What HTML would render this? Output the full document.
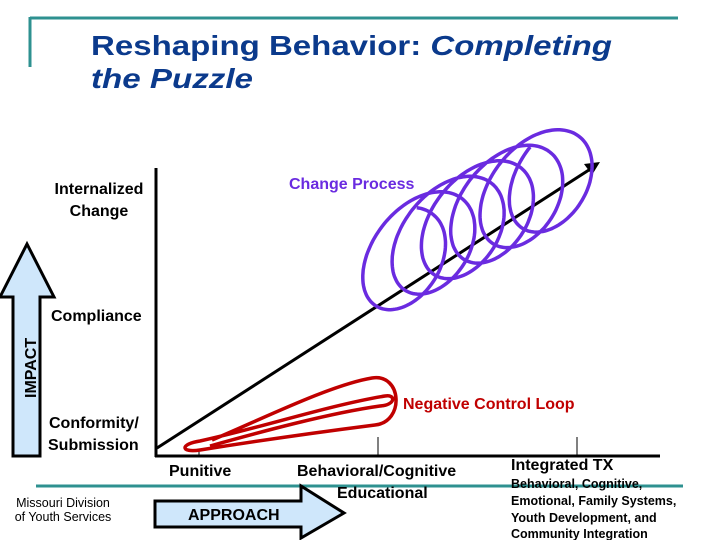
<!DOCTYPE html>
<html><head><meta charset="utf-8"><style>
body{margin:0;background:#fff}
svg text{font-family:"Liberation Sans",sans-serif;font-weight:bold}
</style></head><body>
<svg width="720" height="540" viewBox="0 0 720 540" xmlns="http://www.w3.org/2000/svg">
<line x1="30" y1="18" x2="678" y2="18" stroke="#2e9190" stroke-width="3"/>
<line x1="30" y1="17" x2="30" y2="67" stroke="#2e9190" stroke-width="3"/>
<text x="91" y="55" font-size="28" fill="#0b3a8c" textLength="521" lengthAdjust="spacingAndGlyphs">Reshaping Behavior:  <tspan font-style="italic">Completing</tspan></text>
<text x="91" y="88" font-size="28" fill="#0b3a8c" font-style="italic" textLength="162" lengthAdjust="spacingAndGlyphs">the Puzzle</text>
<line x1="36" y1="486" x2="683" y2="486" stroke="#2e9190" stroke-width="3"/>
<polygon points="27,244 54,297 40,297 40,456 13,456 13,297 0,297" fill="#cfe7fb" stroke="#000" stroke-width="3"/>
<text transform="translate(36,398) rotate(-90)" font-size="16" fill="#000">IMPACT</text>
<line x1="156" y1="168" x2="156" y2="457" stroke="#000" stroke-width="3"/>
<line x1="155" y1="456" x2="660" y2="456" stroke="#000" stroke-width="3"/>
<line x1="199" y1="449" x2="199" y2="456" stroke="#000" stroke-width="1"/>
<line x1="378" y1="437" x2="378" y2="456" stroke="#000" stroke-width="1"/>
<line x1="577" y1="437" x2="577" y2="456" stroke="#000" stroke-width="1"/>
<line x1="157" y1="448" x2="592" y2="168" stroke="#000" stroke-width="3"/>
<polygon points="600,162 584,164 592,175" fill="#000"/>
<path d="M212,440 C260,420 330,385 372,378 C402,373 405,422 375,425 C320,432 250,442 200,450 C180,453 180,444 200,441 C260,428 330,405 385,396 C396,394 396,405 380,406 C330,413 260,432 210,446" fill="none" stroke="#c00000" stroke-width="3.5"/>
<path id="sp" fill="none" stroke="#6a2be0" stroke-width="3.5"/>
<text x="289" y="189" font-size="16" fill="#6a2be0">Change Process</text>
<text x="403" y="409" font-size="16" fill="#c00000">Negative Control Loop</text>
<g font-size="16" fill="#000">
<text x="99" y="194" text-anchor="middle">Internalized</text>
<text x="99" y="216" text-anchor="middle">Change</text>
<text x="51" y="321">Compliance</text>
<text x="49" y="428">Conformity/</text>
<text x="48" y="450">Submission</text>
<text x="169" y="476">Punitive</text>
<text x="297" y="476">Behavioral/Cognitive</text>
<text x="337" y="498">Educational</text>
<text x="511" y="470">Integrated TX</text>
</g>
<g font-size="12.5" fill="#000">
<text x="511" y="488">Behavioral, Cognitive,</text>
<text x="511" y="505">Emotional,  Family Systems,</text>
<text x="511" y="522">Youth Development, and</text>
<text x="511" y="538">Community Integration</text>
</g>
<text x="63" y="507" font-size="12.5" style="font-weight:normal" fill="#000" text-anchor="middle">Missouri Division</text>
<text x="63" y="521" font-size="12.5" style="font-weight:normal" fill="#000" text-anchor="middle">of Youth Services</text>
<polygon points="155,501 301,501 301,486 344,513 301,538 301,527 155,527" fill="#cfe7fb" stroke="#000" stroke-width="3"/>
<text x="188" y="520" font-size="16" fill="#000">APPROACH</text>
</svg>
<script>
var d="",N=700;
for(var i=0;i<=N;i++){var t=i/N;
var cx=392+t*170, cy=262-t*90;
var th=-Math.PI*0.45 + t*Math.PI*2*5.8;
var R=50;
var c=Math.cos(th), s=Math.sin(th);
var x=cx+R*0.9*c - 18*s;
var y=cy+R*1.1*s;
d+=(i?"L":"M")+x.toFixed(1)+","+y.toFixed(1);}
document.getElementById("sp").setAttribute("d",d);
</script>
</body></html>
